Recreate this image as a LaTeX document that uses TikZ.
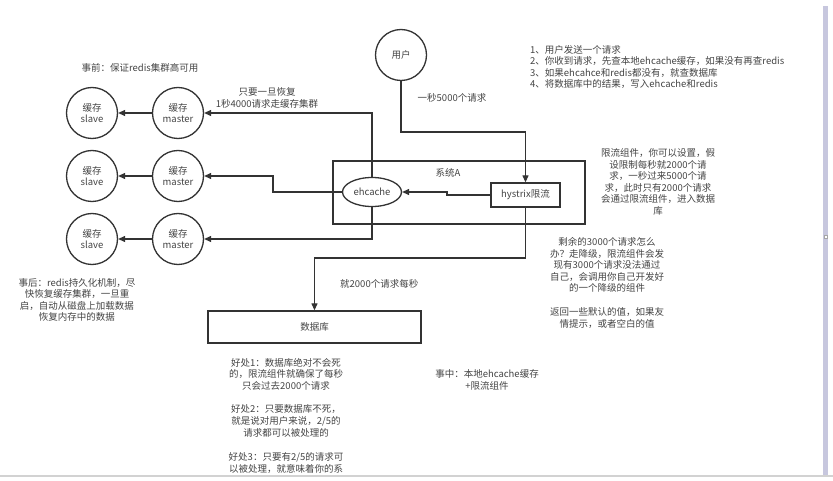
\documentclass[tikz,border=0pt]{standalone}
\usepackage{fontspec}
\setmainfont{Noto Sans CJK SC}
\usetikzlibrary{arrows.meta,shapes.geometric}
\definecolor{ln}{HTML}{333333}
\definecolor{tx}{HTML}{444444}
\begin{document}
\begin{tikzpicture}[x=1pt,y=-1pt,
  base/.style={font=\fontsize{9.5}{11.6}\selectfont, text=tx},
  circ/.style={base, draw=ln, line width=1.3pt, circle, minimum size=51pt, inner sep=0pt, align=center},
  boxn/.style={base, draw=ln, line width=1.3pt, inner sep=0pt},
  lab/.style={base, inner sep=0pt, align=center},
  arr/.style={draw=ln, line width=1.2pt, -{Triangle[length=7pt,width=6pt]}},
  plain/.style={draw=ln, line width=1.2pt}]
\fill[white] (0,0) rectangle (833,481);
\useasboundingbox (0,0) rectangle (833,481);
% screenshot edges
\fill[blue!25!gray!35] (823,6) rectangle (828,477);
\node[draw=gray!70, fill=white, minimum size=3pt, inner sep=0pt] (sq) at (825.5,237) {};
\fill[gray!35] (0,475) rectangle (833,477);

% nodes
\node[circ] (user) at (401,55) {用户};
\node[circ] (s1) at (92,113) {缓存\\slave};
\node[circ] (m1) at (178,113) {缓存\\master};
\node[circ] (s2) at (92,176) {缓存\\slave};
\node[circ] (m2) at (178,176) {缓存\\master};
\node[circ] (s3) at (92,239) {缓存\\slave};
\node[circ] (m3) at (178,239) {缓存\\master};
\node[boxn, minimum width=252pt, minimum height=63pt] (sysA) at (459,192.5) {};
\node[lab] (sysAl) at (448,173) {系统A};
\node[base, draw=ln, line width=1.3pt, ellipse, minimum width=59pt, minimum height=29pt, inner sep=0pt] (ehc) at (372,192) {ehcache};
\node[boxn, minimum width=69pt, minimum height=24pt] (hys) at (525.5,195) {hystrix限流};
\node[boxn, minimum width=213pt, minimum height=32pt] (db) at (314.5,327) {数据库};

% connectors
\coordinate (j1) at (401,132);
\draw[arr] (user.south) -- (j1) -| (hys.north);
\coordinate (k1) at (447,195);
\coordinate (k2) at (447,192);
\draw[arr] (hys.west) -- (k1) -- (k2) -- (ehc.east);
\draw[arr] (ehc.north) |- (m1.east);
\coordinate (e2) at (273,192);
\draw[arr] (ehc.west) -- (e2) |- (m2.east);
\draw[arr] (ehc.south) |- (m3.east);
\draw[arr] (m1.west) -- (s1.east);
\draw[arr] (m2.west) -- (s2.east);
\draw[arr] (m3.west) -- (s3.east);
\coordinate (d1) at (314.5,258);
\draw[arr] (hys.south) |- (d1) -- (db.north);

% labels
\node[lab] (t1) at (140,68) {事前：保证redis集群高可用};
\node[lab] (t2) at (267,98) {只要一旦恢复\\1秒4000请求走缓存集群};
\node[lab] (t3) at (452,98) {一秒5000个请求};
\node[lab, align=left, anchor=west] (t4) at (530,67) {1、用户发送一个请求\\2、你收到请求，先查本地ehcache缓存，如果没有再查redis\\3、如果ehcahce和redis都没有，就查数据库\\4、将数据库中的结果，写入ehcache和redis};
\node[lab] (t5) at (658,182) {限流组件，你可以设置，假\\设限制每秒就2000个请\\求，一秒过来5000个请\\求，此时只有2000个请求\\会通过限流组件，进入数据\\库};
\node[lab] (t6) at (607,265) {剩余的3000个请求怎么\\办？走降级，限流组件会发\\现有3000个请求没法通过\\自己，会调用你自己开发好\\的一个降级的组件};
\node[lab] (t7) at (607,318) {返回一些默认的值，如果友\\情提示，或者空白的值};
\node[lab] (t8) at (77,300) {事后：redis持久化机制，尽\\快恢复缓存集群，一旦重\\启，自动从磁盘上加载数据\\恢复内存中的数据};
\node[lab, anchor=west] (t9) at (340,284) {就2000个请求每秒};
\node[lab] (t10) at (286,374) {好处1：数据库绝对不会死\\的，限流组件就确保了每秒\\只会过去2000个请求};
\node[lab] (t11) at (286,421) {好处2：只要数据库不死，\\就是说对用户来说，2/5的\\请求都可以被处理的};
\node[lab] (t12) at (286,463) {好处3：只要有2/5的请求可\\以被处理，就意味着你的系};
\node[lab] (t13) at (487,380) {事中：本地ehcache缓存\\+限流组件};
\end{tikzpicture}
\end{document}
